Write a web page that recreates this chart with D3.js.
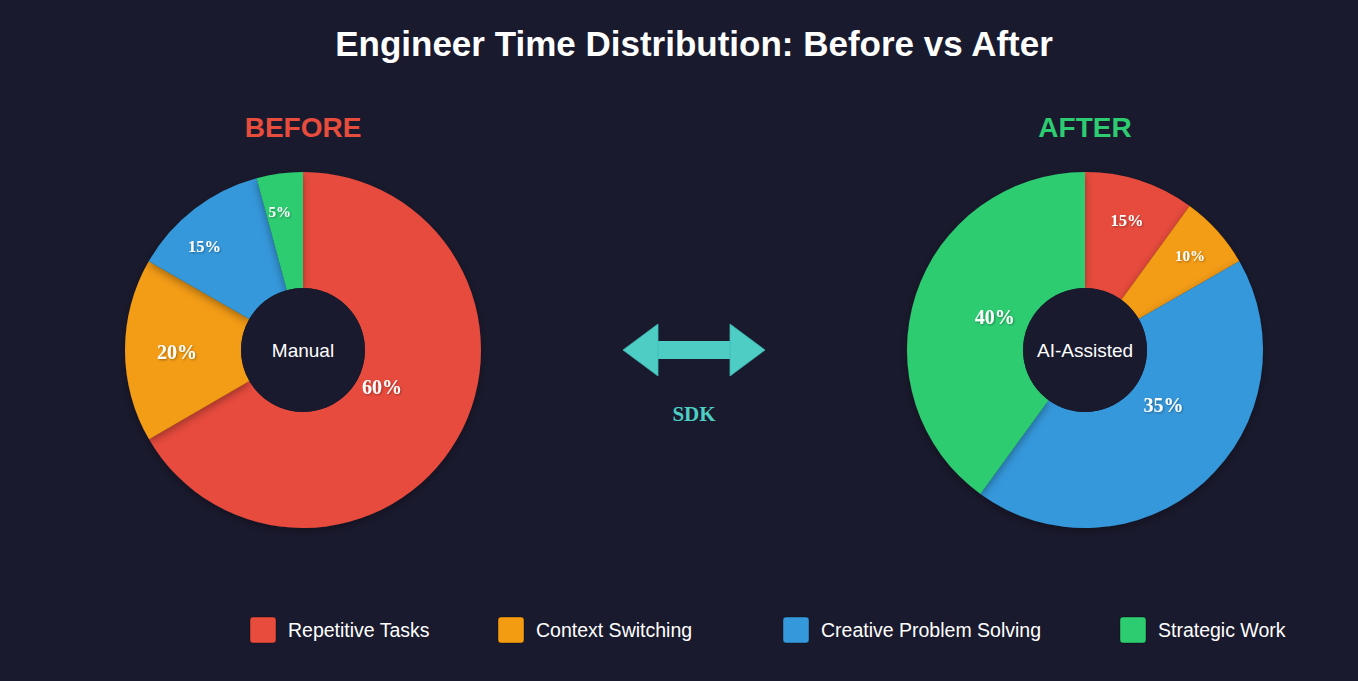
<!DOCTYPE html>
<html>
<head>
<meta charset="utf-8" />
<title>Engineer Time Distribution</title>
<script src="https://d3js.org/d3.v7.min.js"></script>
<style>
  body { margin: 0; background: #1a1a2e; }
  svg { display: block; }
  .sans { font-family: "Liberation Sans", Arial, Helvetica, sans-serif; }
  .serif { font-family: "Liberation Serif", "Times New Roman", serif; }
</style>
</head>
<body>
<svg id="chart" width="1358" height="681"></svg>
<script>
// ---- data ----
const categories = ["Repetitive Tasks", "Context Switching", "Creative Problem Solving", "Strategic Work"];
const colors = ["#e74c3c", "#f39c12", "#3498db", "#2ecc71"];
const beforeLabels = ["60%", "20%", "15%", "5%"];
const afterLabels = ["15%", "10%", "35%", "40%"];
// slice sizes as they are drawn in the picture (share of the circle, %)
const beforeShares = [66.7, 16.7, 12.5, 4.2];
const afterShares = [10, 6.7, 43.3, 40];

// ---- layout / style ----
const W = 1358, H = 681;
const outerR = 178, innerR = 62, cy = 350;
const pies = [
  { cx: 303, title: "BEFORE", titleColor: "#e74c3c", center: "Manual",
    shares: beforeShares, labels: beforeLabels,
    labelR: [87, 126, 143, 140], labelNudge: [-5, -1, -6, -2] },
  { cx: 1085, title: "AFTER", titleColor: "#2ecc71", center: "AI-Assisted",
    shares: afterShares, labels: afterLabels,
    labelR: [136, 141, 96, 96], labelNudge: [0, 0, -13, 2] }
];
const legendX = [250, 498, 783, 1120];
const teal = "#4ecdc4";

const svg = d3.select("#chart");
svg.append("rect").attr("width", W).attr("height", H).attr("fill", "#1a1a2e");

const defs = svg.append("defs");
defs.append("filter").attr("id", "sliceShadow")
  .attr("x", "-20%").attr("y", "-20%").attr("width", "140%").attr("height", "140%")
  .append("feDropShadow")
  .attr("dx", 0).attr("dy", 3).attr("stdDeviation", 4)
  .attr("flood-color", "#000").attr("flood-opacity", 0.35);
defs.append("filter").attr("id", "textShadow")
  .append("feDropShadow")
  .attr("dx", 1).attr("dy", 1).attr("stdDeviation", 1)
  .attr("flood-color", "#000").attr("flood-opacity", 0.35);

// title
svg.append("text")
  .attr("class", "sans")
  .attr("x", 694).attr("y", 56)
  .attr("text-anchor", "middle")
  .attr("font-size", 35).attr("font-weight", "bold")
  .attr("fill", "#ffffff")
  .text("Engineer Time Distribution: Before vs After");

const pie = d3.pie().sort(null).value(d => d);
const arc = d3.arc().innerRadius(innerR).outerRadius(outerR);
const fontSize = d3.scaleThreshold().domain([15, 20]).range([15, 16.5, 20]);

pies.forEach(function (p) {
  const g = svg.append("g").attr("transform", "translate(" + p.cx + "," + cy + ")");

  svg.append("text")
    .attr("class", "sans")
    .attr("x", p.cx).attr("y", 137)
    .attr("text-anchor", "middle")
    .attr("font-size", 28).attr("font-weight", "bold")
    .attr("fill", p.titleColor)
    .text(p.title);

  const arcs = pie(p.shares);

  g.selectAll("path.slice")
    .data(arcs)
    .join("path")
    .attr("class", "slice")
    .attr("d", arc)
    .attr("fill", (d, i) => colors[i])
    .attr("filter", "url(#sliceShadow)");

  // hole
  g.append("circle").attr("r", innerR).attr("fill", "#1a1a2e");

  g.append("text")
    .attr("class", "sans")
    .attr("y", 0).attr("dy", "0.35em")
    .attr("text-anchor", "middle")
    .attr("font-size", 19)
    .attr("fill", "#ffffff")
    .text(p.center);

  // percentage labels
  g.selectAll("text.pct")
    .data(arcs)
    .join("text")
    .attr("class", "pct serif")
    .attr("transform", function (d, i) {
      const a = (d.startAngle + d.endAngle) / 2 + p.labelNudge[i] * Math.PI / 180;
      const r = p.labelR[i];
      return "translate(" + (r * Math.sin(a)) + "," + (-r * Math.cos(a)) + ")";
    })
    .attr("dy", "0.35em")
    .attr("text-anchor", "middle")
    .attr("font-weight", "bold")
    .attr("font-size", (d, i) => fontSize(parseFloat(p.labels[i])))
    .attr("fill", "#ffffff")
    .attr("filter", "url(#textShadow)")
    .text((d, i) => p.labels[i]);
});

// double arrow between the pies
const ax = 694, ay = 350, half = 71, headLen = 35, headH = 26, shaftH = 9;
const arrow = svg.append("g");
arrow.append("rect")
  .attr("x", ax - half + headLen).attr("y", ay - shaftH)
  .attr("width", 2 * (half - headLen)).attr("height", 2 * shaftH)
  .attr("fill", teal);
[-1, 1].forEach(function (s) {
  const tip = ax + s * half, base = ax + s * (half - headLen);
  const path = d3.path();
  path.moveTo(tip, ay);
  path.lineTo(base, ay - headH);
  path.lineTo(base, ay + headH);
  path.closePath();
  arrow.append("path")
    .attr("d", path.toString())
    .attr("fill", teal)
    .attr("stroke", "#3fb8b0").attr("stroke-width", 0.8);
});
svg.append("text")
  .attr("class", "serif")
  .attr("x", ax).attr("y", 414).attr("dy", "0.35em")
  .attr("text-anchor", "middle")
  .attr("font-size", 21).attr("font-weight", "bold")
  .attr("fill", teal)
  .text("SDK");

// legend
const legend = svg.selectAll("g.legend")
  .data(categories)
  .join("g")
  .attr("class", "legend")
  .attr("transform", (d, i) => "translate(" + legendX[i] + ",617)");
legend.append("rect")
  .attr("width", 26).attr("height", 26).attr("rx", 3)
  .attr("fill", (d, i) => colors[i])
  .attr("stroke", "rgba(0,0,0,0.35)").attr("stroke-width", 1);
legend.append("text")
  .attr("class", "sans")
  .attr("x", 38).attr("y", 13).attr("dy", "0.35em")
  .attr("font-size", 19.5)
  .attr("fill", "#ffffff")
  .text(d => d);
</script>
</body>
</html>
